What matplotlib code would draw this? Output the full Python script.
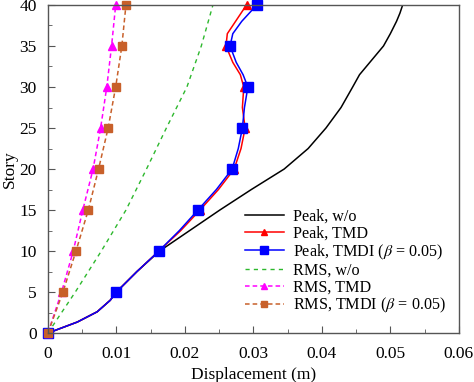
import numpy as np
import matplotlib
matplotlib.use('Agg')
import matplotlib.pyplot as plt
from matplotlib.ticker import MultipleLocator

plt.rcParams['font.family'] = ['Liberation Serif', 'DejaVu Serif']
plt.rcParams['mathtext.fontset'] = 'stix'

# stories sampled for the peak curves
story = [0, 1.35, 2.6, 4, 5, 7.5, 10, 12.5, 15, 17.5, 20, 22.5, 25, 27.5, 30, 31.5, 33, 35,
         36.5, 38, 39, 40]
peak_wo = [0, 0.0043, 0.0072, 0.0091, 0.0100, 0.0130, 0.0163, 0.0207, 0.0251, 0.0297, 0.0345,
           0.0380, 0.0406, 0.0428, 0.0445, 0.0455, 0.0470, 0.0490, 0.0500, 0.0509, 0.0514, 0.0518]
peak_tmd = [0, 0.0043, 0.0072, 0.0091, 0.0100, 0.0130, 0.0162, 0.0194, 0.0222, 0.0249, 0.0272,
            0.0282, 0.0288, 0.0284, 0.0286, 0.0281, 0.0270, 0.0260, 0.0262, 0.0274, 0.0282, 0.0290]
peak_tmdi = [0, 0.0043, 0.0072, 0.0091, 0.0100, 0.0130, 0.0162, 0.0192, 0.0219, 0.0246, 0.0269,
             0.0278, 0.0284, 0.0287, 0.0292, 0.0285, 0.0275, 0.0266, 0.0270, 0.0283, 0.0294, 0.0305]

# RMS curves
story_rms = [0, 5, 10, 15, 20, 25, 30, 35, 40]
rms_wo = [0, 0.0040, 0.0078, 0.0114, 0.0144, 0.0173, 0.0203, 0.0224, 0.0241]
rms_tmd = [0, 0.0020, 0.0037, 0.0051, 0.0066, 0.0077, 0.0086, 0.0093, 0.0099]
rms_tmdi = [0, 0.0022, 0.0041, 0.0059, 0.0074, 0.0088, 0.0099, 0.0108, 0.0114]

mark_idx = [i for i, s in enumerate(story) if s % 5 == 0]

fig = plt.figure(figsize=(4.74, 3.82), dpi=100)
ax = fig.add_axes([0.101, 0.128, 0.867, 0.859])

ax.plot(peak_wo, story, color='black', lw=1.1, label='Peak, w/o')
ax.plot(peak_tmd, story, color='#ff0000', lw=1.1, marker='^', ms=6, markevery=mark_idx,
        clip_on=False, label='Peak, TMD')
ax.plot(peak_tmdi, story, color='#0000ff', lw=1.1, marker='s', ms=6.5, markevery=mark_idx,
        clip_on=False, label=r'Peak, TMDI ($\beta$ = 0.05)')
ax.plot(rms_wo, story_rms, color='#2db82d', lw=1.0, ls=(0, (3, 3)), label='RMS, w/o')
ax.plot(rms_tmd, story_rms, color='#ff00ff', lw=1.1, ls=(0, (3, 2)), marker='^', ms=6,
        clip_on=False, label='RMS, TMD')
ax.plot(rms_tmdi, story_rms, color='#c8602a', lw=1.1, ls=(0, (3, 2)), marker='s', ms=6,
        clip_on=False, label=r'RMS, TMDI ($\beta$ = 0.05)')

ax.set_xlim(0, 0.06)
ax.set_ylim(0, 40)
ax.set_xticks([0, 0.01, 0.02, 0.03, 0.04, 0.05, 0.06])
ax.set_xticklabels(['0', '0.01', '0.02', '0.03', '0.04', '0.05', '0.06'])
ax.xaxis.set_minor_locator(MultipleLocator(0.005))
ax.yaxis.set_major_locator(MultipleLocator(5))
ax.yaxis.set_minor_locator(MultipleLocator(2.5))
ax.tick_params(which='both', direction='in', labelsize=12.5, color='#555555')
ax.tick_params(which='major', length=5)
ax.tick_params(axis='x', which='major', pad=9)
ax.tick_params(axis='y', which='major', pad=8)
ax.tick_params(which='minor', length=3)
for sp in ax.spines.values():
    sp.set_color('#555555')
    sp.set_linewidth(1.0)

ax.set_xlabel('Displacement (m)', fontsize=12.5, labelpad=4)
ax.set_ylabel('Story', fontsize=12.5, labelpad=1)

ax.legend(loc='lower right', bbox_to_anchor=(0.985, 0.035), frameon=False, fontsize=11.6,
          handlelength=2.4, labelspacing=0.05, handletextpad=0.6, borderaxespad=0,
          markerscale=0.8)

fig.savefig('out.png', dpi=100)
